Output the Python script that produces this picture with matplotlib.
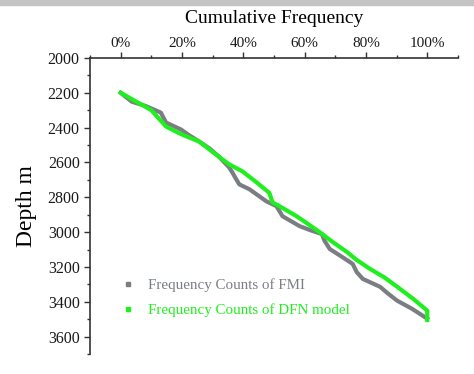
import matplotlib.pyplot as plt
from matplotlib.lines import Line2D
from matplotlib.patches import Rectangle
from matplotlib.ticker import MultipleLocator, FuncFormatter

# cumulative frequency (%) vs depth (m)
fmi_freq = [0, 3.6, 8, 10, 13.1, 14.8, 19.7, 22, 25.6, 29, 32, 35.4, 36.5, 37.7, 38.7,
            42, 47.5, 50.8, 52.8, 58.4, 62, 65.6, 66.5, 68.2, 72, 75.7, 77, 79, 84.6,
            87, 90.2, 95, 100]
fmi_depth = [2200, 2251, 2275, 2290, 2314, 2371, 2411, 2440, 2480, 2520, 2566, 2629, 2660,
             2697, 2726, 2754, 2823, 2851, 2909, 2966, 2990, 3011, 3050, 3097, 3140, 3183,
             3230, 3269, 3314, 3350, 3394, 3440, 3497]

dfn_freq = [0, 5, 10, 14.8, 20, 25.6, 30, 35.4, 39.7, 44.3, 48.5, 49.5, 51.8, 57.4, 60,
            64.9, 69, 73.8, 77, 81.3, 86, 90.2, 95.4, 100, 100]
dfn_depth = [2200, 2250, 2300, 2394, 2440, 2480, 2540, 2611, 2651, 2714, 2775, 2829, 2851,
             2909, 2940, 3000, 3055, 3114, 3160, 3211, 3260, 3314, 3383, 3451, 3505]

labels = ['Frequency Counts of FMI', 'Frequency Counts of DFN model']

gray = '#7a7e83'
green = '#1fef1f'

plt.rcParams['font.family'] = ['Liberation Serif', 'DejaVu Serif']

fig = plt.figure(figsize=(4.74, 3.74), dpi=100)
# thin grey band along the top edge of the original image
fig.patches.append(Rectangle((0, 1 - 5 / 374), 1, 5 / 374, transform=fig.transFigure,
                             color='#c4c4c4', zorder=0))
ax = fig.add_axes([0.19, 0.0535, 0.776, 0.7915])

ax.plot(fmi_freq, fmi_depth, color=gray, lw=3)
ax.plot(dfn_freq, dfn_depth, color=green, lw=3)

ax.set_xlim(-10, 110)
ax.set_ylim(3700, 2000)

ax.xaxis.tick_top()
ax.xaxis.set_label_position('top')
ax.xaxis.set_major_locator(MultipleLocator(20))
ax.xaxis.set_minor_locator(MultipleLocator(10))
ax.xaxis.set_major_formatter(FuncFormatter(lambda v, p: f'{v:.0f}%' if 0 <= v <= 100 else ''))
ax.yaxis.set_major_locator(MultipleLocator(200))
ax.yaxis.set_minor_locator(MultipleLocator(100))

for s in ['right', 'bottom']:
    ax.spines[s].set_visible(False)
for s in ['left', 'top']:
    ax.spines[s].set_color('#333333')
    ax.spines[s].set_linewidth(1.2)

ax.tick_params(which='major', direction='out', length=4, width=1, color='#333333',
               labelsize=11.5, labelcolor='#1a1a1a')
ax.tick_params(axis='x', which='major', labelsize=11, pad=1.5)
ax.tick_params(which='minor', direction='out', length=2, width=1, color='#333333')

ax.set_xlabel('Cumulative Frequency', fontsize=14, labelpad=10)
ax.set_ylabel('Depth m', fontsize=17, labelpad=8)

handles = [Line2D([], [], ls='none', marker='s', ms=2.8, color=c) for c in (gray, green)]
leg = ax.legend(handles, labels, loc='lower left', bbox_to_anchor=(0.055, 0.08),
                frameon=False, fontsize=10.8, handlelength=0.6, handletextpad=1.0,
                labelspacing=0.75)
for txt, c in zip(leg.get_texts(), (gray, green)):
    txt.set_color(c)

fig.savefig('out.png', dpi=100)
